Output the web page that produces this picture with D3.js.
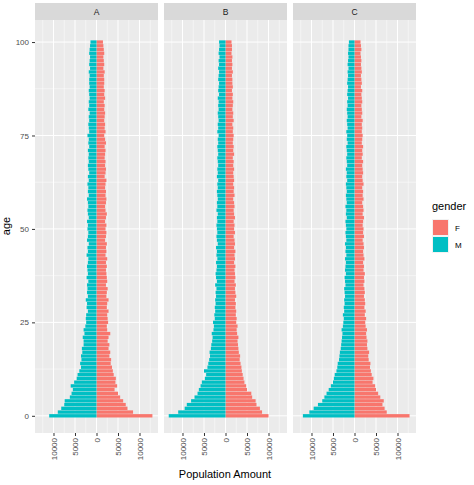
<!DOCTYPE html><html><head><meta charset="utf-8"><script src="https://cdn.jsdelivr.net/npm/d3@7"></script>
<style>body{margin:0;background:#fff}text{font-family:"Liberation Sans",Arial,sans-serif}</style></head><body><svg id="c" width="474" height="485"></svg>
<script>
const panels=["A","B","C"];
const genders=["F","M"];
const xTickValues=[-10000,-5000,0,5000,10000];
const yTickValues=[0,25,50,75,100];
const ages=d3.range(0,101);
const maleA=[11000,9000,8200,7500,7400,6200,5800,5500,6000,5200,4600,4400,4000,3600,3800,3500,3600,3300,3400,3000,3000,3200,2800,3000,2600,2400,2500,2400,2000,2300,2200,2500,2000,2200,2100,2200,1900,2300,2000,2100,2200,2000,1900,2300,2000,2100,1800,2200,2000,1900,2100,2000,2200,1800,2000,2100,1900,2000,2200,1800,2000,1900,2100,1800,2000,1700,1900,2000,1800,1900,1800,2000,1700,1900,1800,2100,1700,1800,1900,1700,1800,1600,1900,1700,1800,1600,1700,1800,1600,1700,1700,1600,1800,1500,1700,1600,1500,1700,1600,1500,1400];
const femaleA=[13000,8500,7200,6800,6200,5500,5000,4200,4800,4400,4500,4000,3800,3600,3300,3400,3000,3200,2800,3000,2600,2800,3200,2500,2400,2700,2600,2500,2800,2400,2500,2800,2300,2400,2600,2200,2500,2400,2300,2200,2400,2200,2500,2100,2300,2200,2400,2000,2200,2300,2100,2300,2000,2200,2400,2100,2000,2200,2300,2100,2200,2000,2100,2300,1900,2100,2200,2000,2100,1900,2000,2100,1900,2200,2000,1800,2100,1900,2000,1800,1900,2000,1800,1900,1700,2000,1800,1900,1700,1800,1800,1700,1900,1600,1800,1700,1600,1800,1700,1600,1500];
const maleB=[13200,11000,9500,9000,8000,7200,6500,6200,5800,5500,4800,4500,5000,4200,4000,3800,3600,3700,3400,3300,3100,3000,3200,2800,2700,2900,2500,2600,2400,2500,2300,2400,2200,2300,2100,2400,2000,2200,2300,2100,2000,2200,1900,2100,2000,2200,1800,2000,2100,1900,2000,2100,1900,2000,1800,2100,1900,2000,1800,1900,2000,1800,1900,1700,2000,1800,1900,1700,1800,1900,1700,1800,1900,1700,1800,1600,1900,1700,1800,1600,1700,1800,1600,1700,1600,1800,1500,1700,1600,1500,1700,1600,1500,1700,1500,1600,1400,1600,1500,1400,1500];
const femaleB=[10000,8500,8000,7200,7000,6200,6000,5000,4800,4400,4200,4000,3800,3700,3500,3300,3400,3100,3000,2900,2800,3000,2700,2600,2800,2500,2600,2400,2500,2300,2400,2200,2500,2300,2200,2400,2100,2300,2200,2100,2300,2000,2200,2100,2300,2000,2200,2100,1900,2200,2000,2100,1900,2200,2000,1900,2100,2000,1800,2100,1900,2000,1800,2000,1900,1800,2000,1800,1900,1700,2000,1800,1900,1700,1800,1900,1700,1800,1600,1900,1700,1800,1600,1700,1800,1600,1700,1500,1700,1600,1600,1500,1700,1500,1600,1500,1600,1400,1500,1500,1400];
const maleC=[12000,10500,9500,8500,7500,7000,6500,6000,5500,5000,4800,4600,4200,4000,3900,3600,3500,3400,3200,3100,3000,2900,2800,3000,2700,2600,2500,2700,2400,2500,2300,2400,2200,2300,2400,2100,2200,2300,2000,2200,2100,2000,2200,1900,2100,2000,2200,1900,2000,2100,1900,2000,2100,1800,2000,1900,2100,1800,1900,2000,1800,1900,2000,1700,1900,1800,2000,1700,1800,1900,1700,1800,1900,1600,1800,1700,1900,1600,1700,1800,1600,1700,1800,1600,1700,1500,1700,1600,1500,1700,1600,1500,1600,1400,1600,1500,1400,1500,1400,1400,1300];
const femaleC=[12800,7500,7000,6500,6800,6000,5500,5000,4800,4200,4400,4000,3800,3600,3700,3300,3200,3400,3000,2900,3000,2800,2700,2900,2600,2500,2700,2400,2600,2300,2500,2400,2200,2400,2300,2100,2300,2200,2400,2100,2200,2000,2300,2100,2000,2200,2100,1900,2200,2000,2100,1900,2000,2200,1900,2100,2000,1800,2100,1900,2000,1800,2100,1900,1800,2000,1900,1800,2000,1700,1900,1800,2000,1700,1800,1900,1700,1800,1700,1900,1600,1800,1700,1600,1800,1700,1600,1800,1500,1700,1600,1500,1700,1600,1500,1600,1500,1400,1600,1500,1400];
const series={A:{F:femaleA,M:maleA},B:{F:femaleB,M:maleB},C:{F:femaleC,M:maleC}};
const colors={F:"#F8766D",M:"#00BFC4"};

const svg=d3.select("#c");
const panelX=[35,164,293],pw=123,topY=20,bottomY=433;
const y=d3.scaleLinear().domain([-4.6,105.9]).range([bottomY,topY]);
const bh=Math.abs(y(0.9)-y(0));
panels.forEach((p,i)=>{
  const x=d3.scaleLinear().domain([-14300,14300]).range([panelX[i],panelX[i]+pw]);
  const g=svg.append("g");
  g.append("rect").attr("x",panelX[i]).attr("y",3).attr("width",pw).attr("height",17).attr("fill","#D9D9D9");
  g.append("text").attr("x",panelX[i]+pw/2).attr("y",15).attr("text-anchor","middle").attr("font-size",8.5).attr("fill","#1a1a1a").text(p);
  g.append("rect").attr("x",panelX[i]).attr("y",topY).attr("width",pw).attr("height",bottomY-topY).attr("fill","#EBEBEB");
  [-12500,-7500,-2500,2500,7500,12500].forEach(v=>g.append("line").attr("x1",x(v)).attr("x2",x(v)).attr("y1",topY).attr("y2",bottomY).attr("stroke","#fff").attr("stroke-width",0.5));
  [12.5,37.5,62.5,87.5].forEach(v=>g.append("line").attr("y1",y(v)).attr("y2",y(v)).attr("x1",panelX[i]).attr("x2",panelX[i]+pw).attr("stroke","#fff").attr("stroke-width",0.5));
  xTickValues.forEach(v=>g.append("line").attr("x1",x(v)).attr("x2",x(v)).attr("y1",topY).attr("y2",bottomY).attr("stroke","#fff").attr("stroke-width",1));
  yTickValues.forEach(v=>g.append("line").attr("y1",y(v)).attr("y2",y(v)).attr("x1",panelX[i]).attr("x2",panelX[i]+pw).attr("stroke","#fff").attr("stroke-width",1));
  genders.forEach(gd=>{
    const vals=series[p][gd];
    g.selectAll(null).data(ages).enter().append("rect")
      .attr("x",a=>gd==="M"?x(-vals[a]):x(0))
      .attr("width",a=>Math.abs(x(vals[a])-x(0)))
      .attr("y",a=>y(a)-bh/2).attr("height",bh).attr("fill",colors[gd]);
  });
  const ax=d3.axisBottom(x).tickValues(xTickValues).tickFormat(v=>Math.abs(v)).tickSize(3);
  const ag=g.append("g").attr("transform",`translate(0,${bottomY})`).call(ax);
  ag.select(".domain").remove();
  ag.selectAll("line").attr("stroke","#333");
  ag.selectAll("text").attr("font-size",8).attr("fill","#4d4d4d").attr("transform","rotate(-90)").attr("text-anchor","end").attr("x",-5).attr("y",0).attr("dy","0.35em");
});
const yax=svg.append("g").attr("transform",`translate(${panelX[0]},0)`).call(d3.axisLeft(y).tickValues(yTickValues).tickSize(3));
yax.select(".domain").remove();yax.selectAll("line").attr("stroke","#333");
yax.selectAll("text").attr("font-size",8).attr("fill","#4d4d4d");
svg.append("text").attr("transform","translate(10,226) rotate(-90)").attr("text-anchor","middle").attr("font-size",11).attr("fill","#000").text("age");
svg.append("text").attr("x",225).attr("y",478).attr("text-anchor","middle").attr("font-size",11).attr("fill","#000").text("Population Amount");
svg.append("text").attr("x",432).attr("y",210).attr("font-size",11).attr("fill","#000").text("gender");
genders.forEach((gd,i)=>{
  svg.append("rect").attr("x",432).attr("y",219+i*17).attr("width",17).attr("height",17).attr("fill","#F2F2F2");
  svg.append("rect").attr("x",433).attr("y",220+i*17).attr("width",15).attr("height",15).attr("fill",colors[gd]);
  svg.append("text").attr("x",455).attr("y",231+i*17).attr("font-size",8).attr("fill","#000").text(gd);
});
</script></body></html>
